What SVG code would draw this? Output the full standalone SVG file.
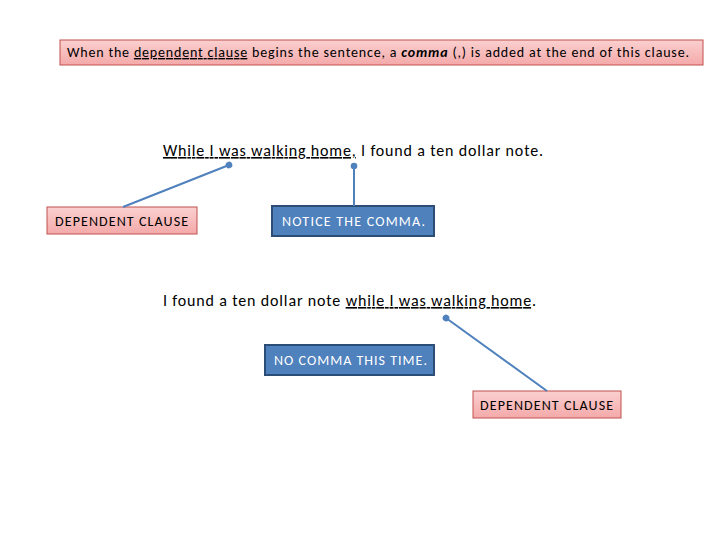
<svg xmlns="http://www.w3.org/2000/svg" width="720" height="540" viewBox="0 0 720 540">
<defs>
<linearGradient id="pk" x1="0" y1="0" x2="0" y2="1"><stop offset="0" stop-color="#fbd0d0"/><stop offset="1" stop-color="#f4a9a9"/></linearGradient>
<marker id="a" viewBox="0 0 6 6" refX="3" refY="3" markerWidth="4" markerHeight="4" orient="auto"><circle cx="3" cy="3" r="2.5" fill="#4f81bd"/></marker>
</defs>
<style>
text{font-family:Carlito,Calibri,"Liberation Sans",sans-serif;fill:#000}
.pink{fill:url(#pk);stroke:#c0504d;stroke-width:1}
.blue{fill:#4f81bd;stroke:#2c4d75;stroke-width:2}
.c{stroke:#4f81bd;stroke-width:2;fill:none;marker-end:url(#a)}
</style>
<rect width="720" height="540" fill="#fff"/>
<g id="banner"><rect class="pink" x="60" y="40" width="643" height="25"/>
<text x="67" y="57" font-size="14" textLength="622" lengthAdjust="spacing">When the <tspan text-decoration="underline">dependent clause</tspan> begins the sentence, a <tspan font-style="italic" font-weight="bold">comma</tspan> (,) is added at the end of this clause.</text></g>
<g id="s1"><text x="163" y="156" font-size="16" textLength="380" lengthAdjust="spacing"><tspan text-decoration="underline">While I was walking home,</tspan> I found a ten dollar note.</text></g>
<g id="s2"><text x="163" y="306" font-size="16" textLength="373" lengthAdjust="spacing">I found a ten dollar note <tspan text-decoration="underline">while I was walking home</tspan>.</text></g>
<g id="dc1"><rect class="pink" x="47" y="207" width="150" height="27"/><text x="55" y="226" font-size="14" textLength="133" lengthAdjust="spacing">DEPENDENT CLAUSE</text></g>
<g id="notice"><rect class="blue" x="272" y="206" width="162" height="30"/><text x="282" y="226" font-size="14" textLength="143" lengthAdjust="spacing" style="fill:#fff">NOTICE THE COMMA.</text></g>
<g id="nocomma"><rect class="blue" x="265" y="345" width="169" height="30"/><text x="274" y="365" font-size="14" textLength="153" lengthAdjust="spacing" style="fill:#fff">NO COMMA THIS TIME.</text></g>
<g id="dc2"><rect class="pink" x="473" y="391" width="148" height="27"/><text x="480" y="410" font-size="14" textLength="133" lengthAdjust="spacing">DEPENDENT CLAUSE</text></g>
<g id="connectors">
<line class="c" x1="123" y1="207" x2="229" y2="165"/>
<line class="c" x1="354" y1="206" x2="354" y2="166"/>
<line class="c" x1="547" y1="391" x2="446" y2="318"/>
</g>
</svg>
